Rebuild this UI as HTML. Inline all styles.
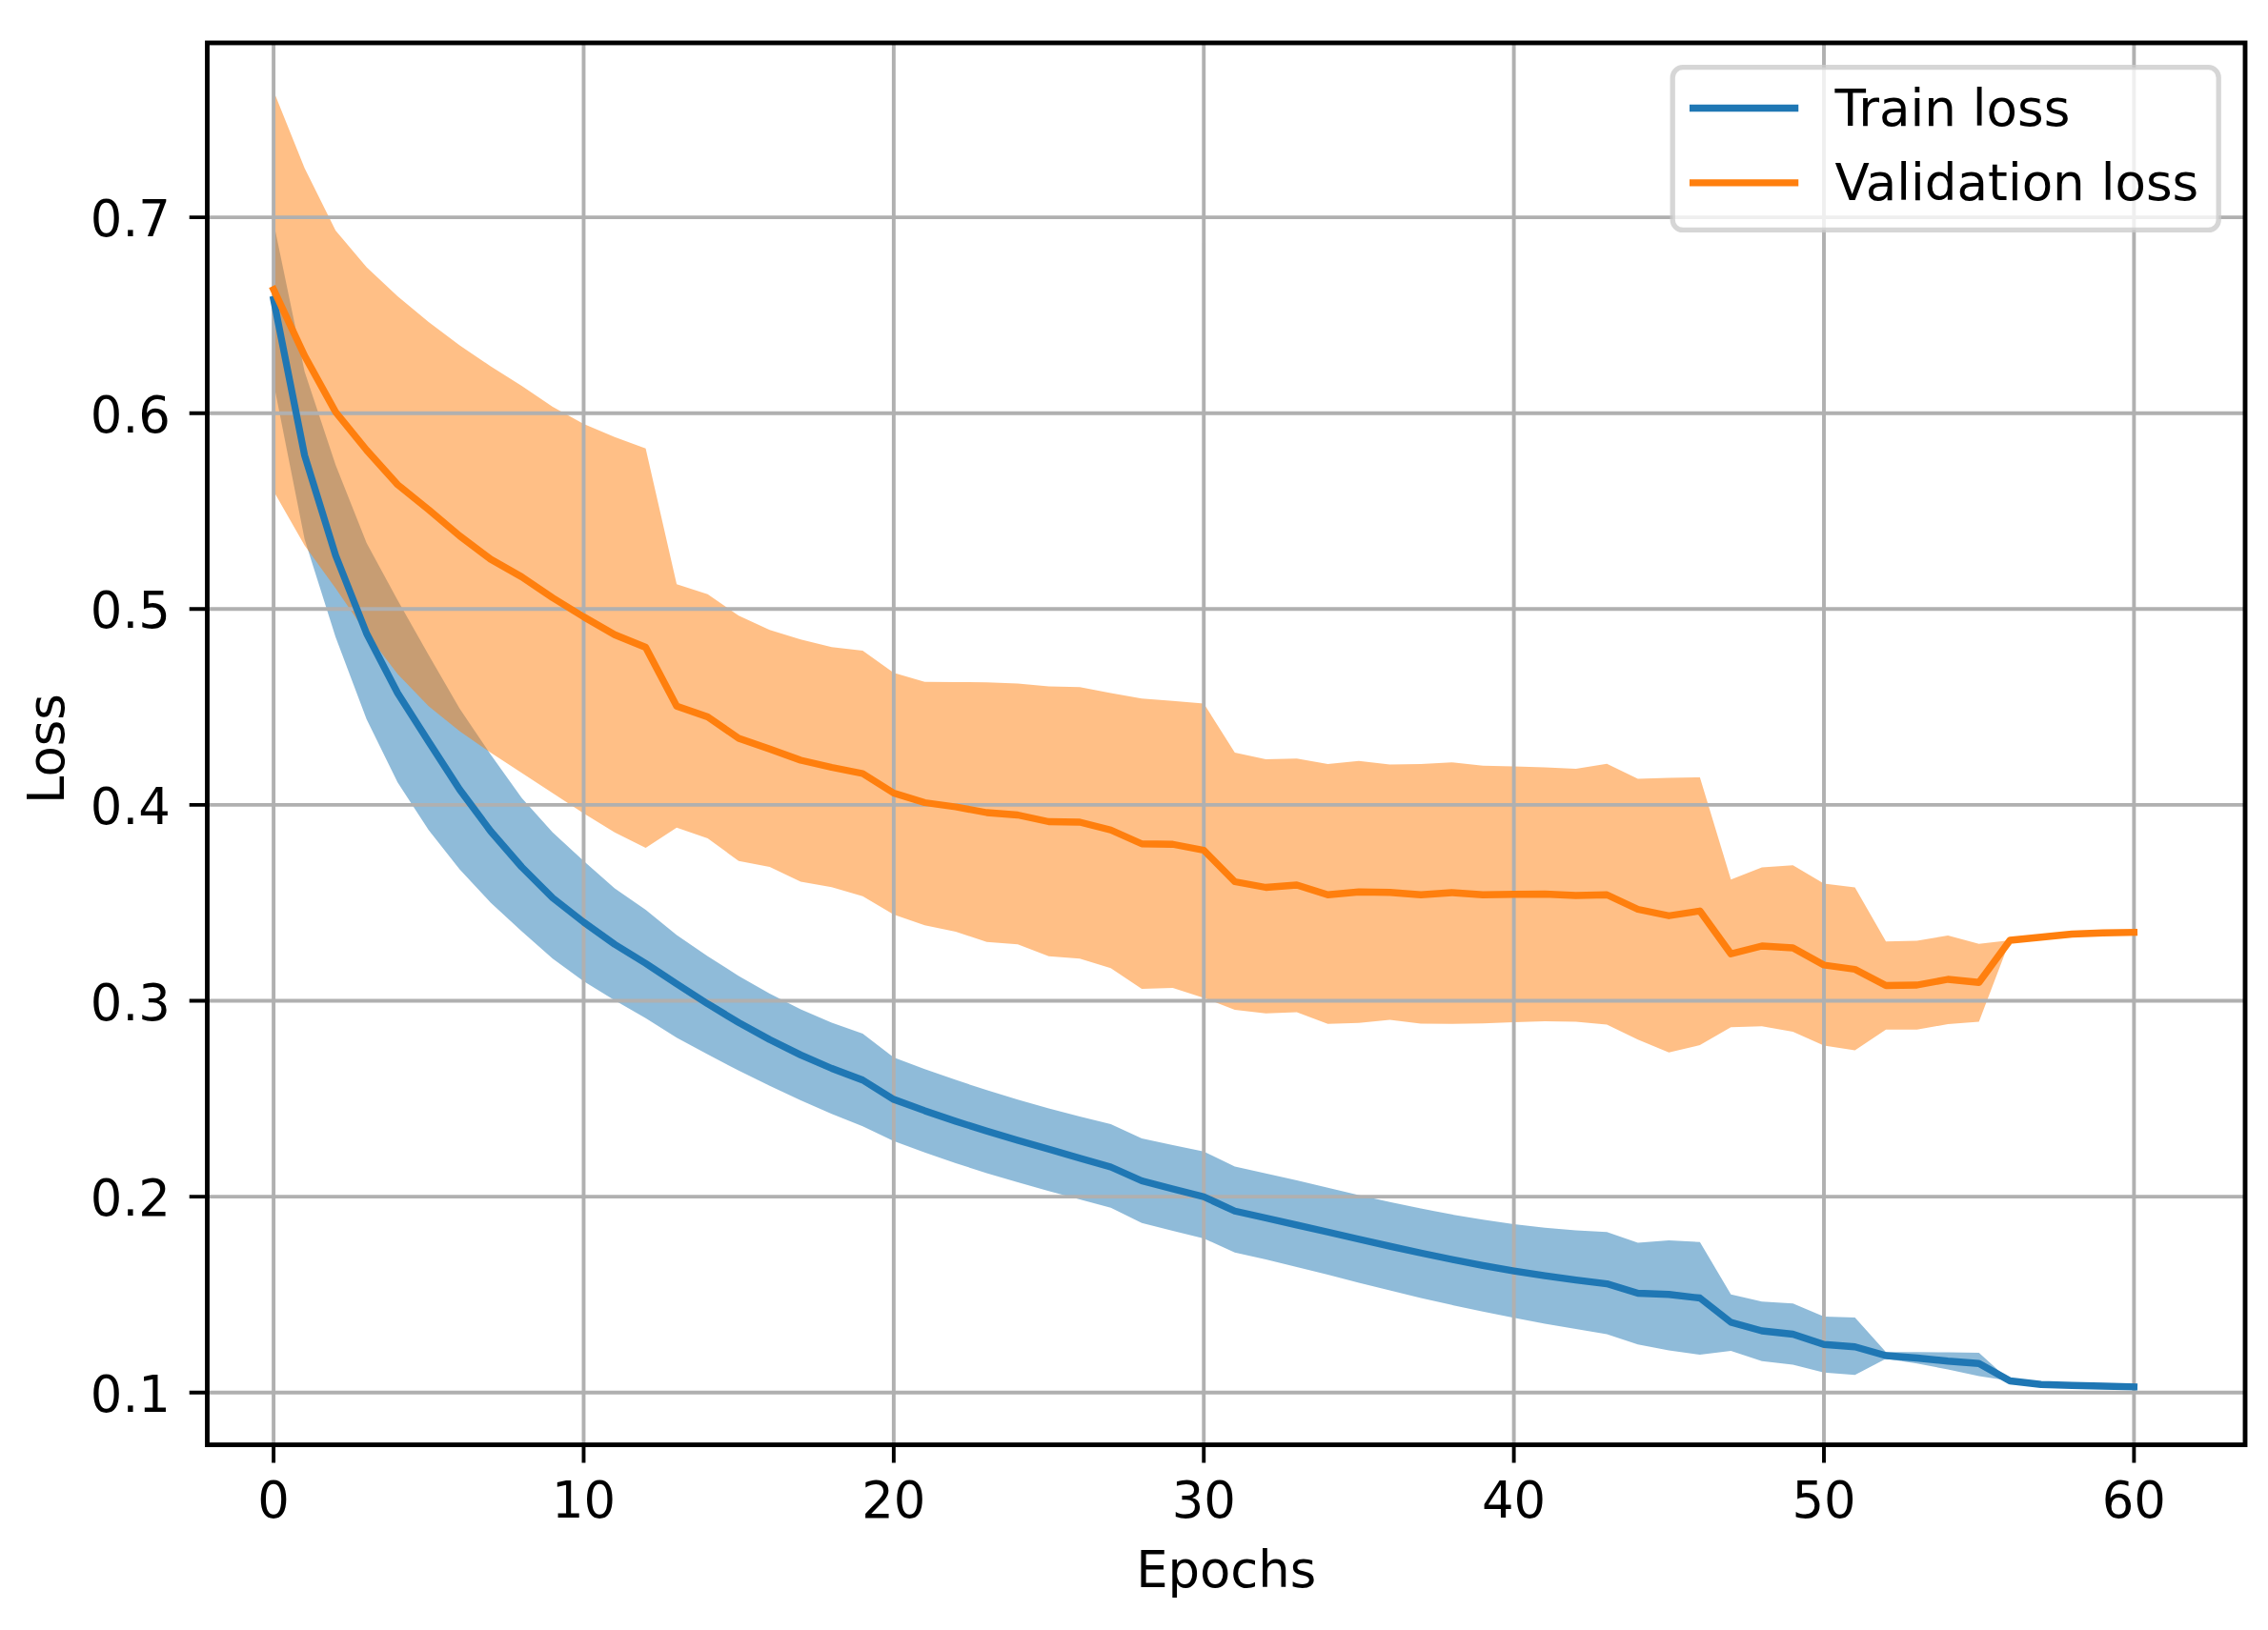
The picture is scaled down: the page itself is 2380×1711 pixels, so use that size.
<!DOCTYPE html>
<html><head><meta charset="utf-8"><title>Loss</title>
<style>html,body{margin:0;padding:0;background:#fff}svg{display:block}text{font-family:"DejaVu Sans","Liberation Sans",sans-serif;fill:#000}</style></head><body>
<svg width="2380" height="1711" viewBox="0 0 2380 1711">
<rect width="2380" height="1711" fill="#fff"/>
<clipPath id="c"><rect x="217.5" y="45.0" width="2138.5" height="1471.6"/></clipPath>
<g clip-path="url(#c)">
<polygon points="287.10,233.50 319.64,390.00 352.18,488.00 384.71,570.00 417.25,630.00 449.79,687.50 482.33,743.75 514.87,792.00 547.40,837.50 579.94,873.75 612.48,903.75 645.02,932.50 677.56,955.00 710.09,981.46 742.63,1003.80 775.17,1024.44 807.71,1043.03 840.25,1059.39 872.78,1073.38 905.32,1085.01 937.86,1109.97 970.40,1122.16 1002.94,1133.59 1035.47,1144.27 1068.01,1154.22 1100.55,1163.49 1133.09,1172.07 1165.63,1179.98 1198.16,1195.00 1230.70,1202.00 1263.24,1208.75 1295.78,1224.45 1328.32,1231.67 1360.85,1239.11 1393.39,1246.73 1425.93,1254.38 1458.47,1261.75 1491.01,1268.60 1523.54,1274.82 1556.08,1280.35 1588.62,1285.08 1621.16,1288.85 1653.70,1291.56 1686.23,1293.16 1718.77,1304.50 1751.31,1302.00 1783.85,1303.75 1816.39,1358.75 1848.92,1366.25 1881.46,1368.25 1914.00,1382.00 1946.54,1383.00 1979.08,1419.25 2011.61,1419.25 2044.15,1419.50 2076.69,1420.00 2109.23,1449.50 2109.23,1449.50 2076.69,1444.50 2044.15,1437.50 2011.61,1431.25 1979.08,1426.25 1946.54,1443.25 1914.00,1440.75 1881.46,1432.50 1848.92,1428.75 1816.39,1418.00 1783.85,1422.00 1751.31,1417.50 1718.77,1411.25 1686.23,1400.45 1653.70,1395.10 1621.16,1389.39 1588.62,1383.29 1556.08,1376.80 1523.54,1369.86 1491.01,1362.43 1458.47,1354.58 1425.93,1346.42 1393.39,1338.12 1360.85,1329.95 1328.32,1322.12 1295.78,1314.73 1263.24,1300.00 1230.70,1292.00 1198.16,1283.75 1165.63,1267.71 1133.09,1259.08 1100.55,1250.22 1068.01,1241.05 1035.47,1231.38 1002.94,1221.02 970.40,1209.82 937.86,1197.72 905.32,1182.37 872.78,1169.13 840.25,1154.97 807.71,1139.86 775.17,1123.79 742.63,1106.85 710.09,1089.28 677.56,1068.75 645.02,1050.00 612.48,1030.00 579.94,1006.25 547.40,977.50 514.87,947.50 482.33,912.50 449.79,871.25 417.25,821.25 384.71,755.00 352.18,668.75 319.64,566.00 287.10,402.00" fill="#1f77b4" fill-opacity="0.5"/>
<polygon points="287.10,95.50 319.64,176.50 352.18,242.00 384.71,280.50 417.25,311.00 449.79,338.00 482.33,362.50 514.87,384.50 547.40,405.00 579.94,427.00 612.48,445.00 645.02,458.75 677.56,470.75 710.09,613.25 742.63,623.75 775.17,646.25 807.71,661.25 840.25,671.25 872.78,679.25 905.32,683.00 937.86,706.25 970.40,715.75 1002.94,716.00 1035.47,716.25 1068.01,717.50 1100.55,720.50 1133.09,721.25 1165.63,727.50 1198.16,733.25 1230.70,735.75 1263.24,738.50 1295.78,790.00 1328.32,797.00 1360.85,796.25 1393.39,802.00 1425.93,798.75 1458.47,802.50 1491.01,802.00 1523.54,800.25 1556.08,803.75 1588.62,804.50 1621.16,805.50 1653.70,807.00 1686.23,801.75 1718.77,817.50 1751.31,816.50 1783.85,816.00 1816.39,923.25 1848.92,910.50 1881.46,908.25 1914.00,927.50 1946.54,931.50 1979.08,988.25 2011.61,987.50 2044.15,982.00 2076.69,990.75 2109.23,987.00 2109.23,987.00 2076.69,1072.50 2044.15,1075.00 2011.61,1080.75 1979.08,1080.75 1946.54,1102.50 1914.00,1097.50 1881.46,1083.00 1848.92,1077.25 1816.39,1078.25 1783.85,1097.00 1751.31,1104.75 1718.77,1091.25 1686.23,1075.50 1653.70,1072.50 1621.16,1072.00 1588.62,1073.00 1556.08,1074.25 1523.54,1074.75 1491.01,1074.50 1458.47,1070.50 1425.93,1073.75 1393.39,1074.75 1360.85,1062.50 1328.32,1063.75 1295.78,1060.00 1263.24,1047.50 1230.70,1037.00 1198.16,1038.00 1165.63,1016.25 1133.09,1006.25 1100.55,1003.75 1068.01,991.25 1035.47,988.75 1002.94,978.00 970.40,971.25 937.86,960.00 905.32,940.75 872.78,931.25 840.25,925.50 807.71,910.00 775.17,903.75 742.63,880.00 710.09,868.75 677.56,890.00 645.02,873.75 612.48,853.75 579.94,832.50 547.40,811.25 514.87,790.00 482.33,767.50 449.79,741.25 417.25,707.50 384.71,665.00 352.18,617.50 319.64,572.50 287.10,515.50" fill="#ff7f0e" fill-opacity="0.5"/>
<path d="M287.10 45.0V1516.6M612.48 45.0V1516.6M937.86 45.0V1516.6M1263.24 45.0V1516.6M1588.62 45.0V1516.6M1914.00 45.0V1516.6M2239.38 45.0V1516.6M217.5 228.10H2356.0M217.5 433.70H2356.0M217.5 639.30H2356.0M217.5 844.90H2356.0M217.5 1050.50H2356.0M217.5 1256.10H2356.0M217.5 1461.70H2356.0" stroke="#b0b0b0" stroke-width="3.9" fill="none"/>
<polyline points="287.10,314.40 319.64,478.00 352.18,583.00 384.71,665.00 417.25,727.50 449.79,778.50 482.33,828.75 514.87,872.50 547.40,910.00 579.94,942.50 612.48,968.00 645.02,991.25 677.56,1011.25 710.09,1032.75 742.63,1053.73 775.17,1073.36 807.71,1091.30 840.25,1107.37 872.78,1121.51 905.32,1133.73 937.86,1154.03 970.40,1165.94 1002.94,1176.99 1035.47,1187.28 1068.01,1196.98 1100.55,1206.35 1133.09,1215.65 1165.63,1225.03 1198.16,1239.50 1230.70,1248.00 1263.24,1256.25 1295.78,1271.28 1328.32,1278.55 1360.85,1285.87 1393.39,1293.27 1425.93,1300.72 1458.47,1308.10 1491.01,1315.27 1523.54,1322.03 1556.08,1328.32 1588.62,1334.08 1621.16,1339.23 1653.70,1343.73 1686.23,1347.55 1718.77,1357.50 1751.31,1358.75 1783.85,1362.50 1816.39,1388.00 1848.92,1397.00 1881.46,1400.50 1914.00,1411.25 1946.54,1413.75 1979.08,1423.00 2011.61,1425.50 2044.15,1428.75 2076.69,1431.25 2109.23,1449.50 2141.77,1453.25 2174.30,1454.25 2206.84,1455.00 2239.38,1455.75" fill="none" stroke="#1f77b4" stroke-width="7.3" stroke-linecap="square" stroke-linejoin="round"/>
<polyline points="287.10,303.90 319.64,373.50 352.18,432.50 384.71,472.50 417.25,508.75 449.79,535.00 482.33,562.50 514.87,587.00 547.40,605.50 579.94,627.50 612.48,647.50 645.02,666.25 677.56,679.50 710.09,741.25 742.63,752.50 775.17,775.00 807.71,786.25 840.25,798.00 872.78,805.50 905.32,812.00 937.86,832.50 970.40,842.50 1002.94,847.00 1035.47,853.00 1068.01,855.50 1100.55,862.50 1133.09,863.00 1165.63,871.25 1198.16,885.75 1230.70,886.25 1263.24,892.50 1295.78,925.50 1328.32,931.50 1360.85,929.00 1393.39,939.25 1425.93,936.25 1458.47,936.75 1491.01,939.25 1523.54,937.00 1556.08,939.25 1588.62,938.75 1621.16,938.50 1653.70,940.00 1686.23,939.25 1718.77,954.50 1751.31,961.25 1783.85,956.25 1816.39,1001.25 1848.92,993.00 1881.46,995.00 1914.00,1013.00 1946.54,1017.50 1979.08,1034.50 2011.61,1034.00 2044.15,1028.00 2076.69,1031.25 2109.23,987.00 2141.77,983.75 2174.30,980.50 2206.84,979.25 2239.38,978.75" fill="none" stroke="#ff7f0e" stroke-width="7.3" stroke-linecap="square" stroke-linejoin="round"/>
</g>
<path d="M287.10 1516.6v18.8M612.48 1516.6v18.8M937.86 1516.6v18.8M1263.24 1516.6v18.8M1588.62 1516.6v18.8M1914.00 1516.6v18.8M2239.38 1516.6v18.8M217.5 228.10h-18.8M217.5 433.70h-18.8M217.5 639.30h-18.8M217.5 844.90h-18.8M217.5 1050.50h-18.8M217.5 1256.10h-18.8M217.5 1461.70h-18.8" stroke="#000" stroke-width="3.9" fill="none"/>
<rect x="217.5" y="45.0" width="2138.5" height="1471.6" fill="none" stroke="#000" stroke-width="4.86" stroke-linejoin="miter"/>
<text x="287.10" y="1592.8" font-size="52.8" text-anchor="middle">0</text>
<text x="612.48" y="1592.8" font-size="52.8" text-anchor="middle">10</text>
<text x="937.86" y="1592.8" font-size="52.8" text-anchor="middle">20</text>
<text x="1263.24" y="1592.8" font-size="52.8" text-anchor="middle">30</text>
<text x="1588.62" y="1592.8" font-size="52.8" text-anchor="middle">40</text>
<text x="1914.00" y="1592.8" font-size="52.8" text-anchor="middle">50</text>
<text x="2239.38" y="1592.8" font-size="52.8" text-anchor="middle">60</text>
<text x="178.8" y="248.10" font-size="52.8" text-anchor="end">0.7</text>
<text x="178.8" y="453.70" font-size="52.8" text-anchor="end">0.6</text>
<text x="178.8" y="659.30" font-size="52.8" text-anchor="end">0.5</text>
<text x="178.8" y="864.90" font-size="52.8" text-anchor="end">0.4</text>
<text x="178.8" y="1070.50" font-size="52.8" text-anchor="end">0.3</text>
<text x="178.8" y="1276.10" font-size="52.8" text-anchor="end">0.2</text>
<text x="178.8" y="1481.70" font-size="52.8" text-anchor="end">0.1</text>
<text x="1286.75" y="1666.1" font-size="52.8" text-anchor="middle">Epochs</text>
<text transform="translate(67,786.20) rotate(-90)" font-size="52.8" text-anchor="middle">Loss</text>
<rect x="1755.2" y="70.7" width="573" height="170.7" rx="10.7" ry="10.7" fill="#fff" fill-opacity="0.8" stroke="#cccccc" stroke-opacity="0.8" stroke-width="5.3"/>
<path d="M1776.6 113.5h107" stroke="#1f77b4" stroke-width="7.3" stroke-linecap="square"/>
<path d="M1776.6 191.9h107" stroke="#ff7f0e" stroke-width="7.3" stroke-linecap="square"/>
<text x="1925.6" y="132.3" font-size="53.1">Train loss</text>
<text x="1925.6" y="210.1" font-size="53.1">Validation loss</text>
</svg></body></html>
